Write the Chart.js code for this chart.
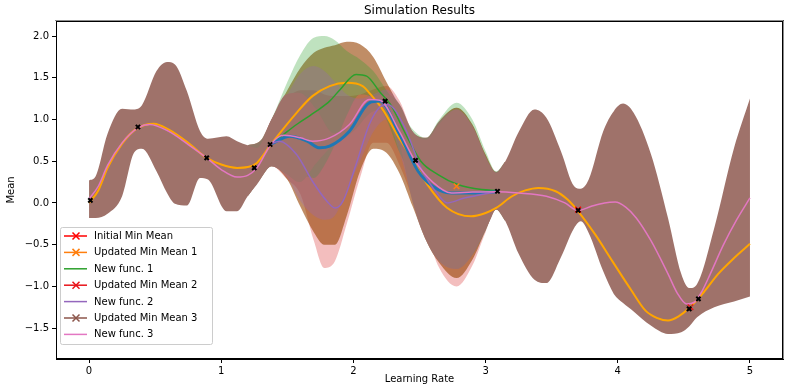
<!DOCTYPE html>
<html>
<head>
<meta charset="utf-8">
<script src="https://cdn.jsdelivr.net/npm/chart.js@4"></script>
<style>
html, body { margin: 0; padding: 0; background: #fff; overflow: hidden; }
canvas { display: block; }
</style>
</head>
<body>
<canvas id="simChart" width="809" height="391"></canvas>
<script>

// ==========================
// DATA
// ==========================

const xTicks = [0, 1, 2, 3, 4, 5];
const yTicks = [-1.5, -1.0, -0.5, 0.0, 0.5, 1.0, 1.5, 2.0];

// final confidence band (covers whole range)
const bandX = [0, 0.05, 0.14, 0.25, 0.34, 0.40, 0.51, 0.59, 0.65, 0.74, 0.84, 0.90, 1.04, 1.12, 1.2, 1.27, 1.38, 1.49, 1.59, 1.72, 1.85, 2.0, 2.15, 2.25, 2.35, 2.45, 2.55, 2.65, 2.78, 2.9, 3.03, 3.08, 3.15, 3.25, 3.37, 3.46, 3.57, 3.67, 3.72, 3.78, 3.89, 3.97, 4.04, 4.12, 4.25, 4.38, 4.48, 4.54, 4.6, 4.73, 4.88, 5.0];
const bandUpper = [0.27, 0.32, 0.83, 1.13, 1.12, 1.17, 1.58, 1.69, 1.66, 1.34, 0.86, 0.77, 0.80, 0.74, 0.69, 0.66, 1.0, 1.30, 1.32, 1.12, 0.84, 0.95, 1.27, 1.30, 1.18, 0.85, 0.76, 0.95, 1.12, 0.92, 0.46, 0.36, 0.50, 0.85, 1.12, 1.02, 0.62, 0.20, 0.17, 0.28, 0.86, 1.10, 1.19, 1.08, 0.59, -0.18, -0.85, -1.02, -0.97, -0.30, 0.66, 1.25];
const bandLower = [-0.18, -0.18, -0.13, 0.08, 0.60, 0.65, 0.38, 0.12, -0.01, -0.03, 0.30, 0.28, -0.10, -0.10, 0.08, 0.22, 0.44, 0.35, 0.25, 0.48, 0.70, 0.86, 1.10, 1.12, 0.70, 0.0, -0.45, -0.70, -0.79, -0.62, -0.22, -0.08, -0.22, -0.61, -0.92, -0.96, -0.65, -0.30, -0.22, -0.36, -0.82, -1.09, -1.20, -1.30, -1.47, -1.57, -1.55, -1.48, -1.37, -1.25, -1.18, -1.12];

// earlier bands, only differ in the middle
const midX = [1.2, 1.3, 1.38, 1.5, 1.6, 1.7, 1.78, 1.86, 1.95, 2.05, 2.15, 2.25, 2.35, 2.45, 2.55, 2.65, 2.78, 2.9, 3.0, 3.08, 3.15];
const redUpper = [0.69, 0.75, 1.0, 1.25, 1.35, 1.35, 1.30, 1.28, 1.28, 1.30, 1.36, 1.40, 1.22, 0.85, 0.78, 0.98, 1.14, 0.94, 0.58, 0.37, 0.50];
const redLower = [0.08, 0.30, 0.44, 0.28, 0.10, -0.45, -0.78, -0.70, -0.25, 0.30, 0.72, 0.72, 0.45, 0.05, -0.35, -0.78, -1.0, -0.75, -0.35, -0.08, -0.22];
const orangeUpper = [0.69, 0.75, 1.0, 1.35, 1.62, 1.80, 1.86, 1.89, 1.93, 1.90, 1.75, 1.45, 1.15, 0.85, 0.78, 0.98, 1.14, 0.94, 0.58, 0.37, 0.50];
const orangeLower = [0.08, 0.30, 0.44, 0.28, -0.05, -0.35, -0.50, -0.50, -0.15, 0.38, 0.65, 0.60, 0.35, -0.05, -0.45, -0.72, -0.90, -0.68, -0.33, -0.08, -0.22];
const greenUpper = [0.69, 0.75, 1.0, 1.45, 1.78, 1.98, 2.0, 1.95, 1.82, 1.72, 1.58, 1.35, 1.12, 0.88, 0.78, 1.0, 1.20, 1.0, 0.62, 0.38, 0.50];
const greenLower = [0.08, 0.30, 0.44, 0.42, 0.35, 0.30, 0.45, 0.70, 1.05, 1.30, 1.25, 1.0, 0.60, 0.30, -0.05, -0.45, -0.75, -0.62, -0.33, -0.08, -0.22];
const purpleUpper = [0.69, 0.75, 1.0, 1.30, 1.55, 1.64, 1.58, 1.45, 1.30, 1.25, 1.30, 1.36, 1.18, 0.85, 0.78, 0.98, 1.12, 0.92, 0.55, 0.37, 0.50];
const purpleLower = [0.08, 0.30, 0.44, 0.30, 0.02, -0.15, -0.20, -0.15, 0.15, 0.50, 0.85, 1.0, 0.60, 0.05, -0.40, -0.70, -0.79, -0.62, -0.33, -0.08, -0.22];

// mean curves
const orangeX = [0, 0.07, 0.14, 0.25, 0.36, 0.49, 0.6, 0.75, 0.89, 1.0, 1.12, 1.2, 1.27, 1.38, 1.57, 1.69, 1.82, 1.95, 2.07, 2.13, 2.23, 2.33, 2.44, 2.56, 2.71, 2.89, 3.0, 3.08, 3.2, 3.3, 3.40, 3.53, 3.62, 3.70, 3.83, 3.96, 4.1, 4.21, 4.3, 4.38, 4.46, 4.54, 4.65, 4.76, 4.88, 5.0];
const orangeY = [0.0, 0.15, 0.42, 0.71, 0.89, 0.95, 0.88, 0.72, 0.54, 0.46, 0.42, 0.43, 0.48, 0.71, 1.08, 1.28, 1.40, 1.44, 1.40, 1.30, 1.10, 0.82, 0.54, 0.22, -0.06, -0.16, -0.12, -0.06, 0.08, 0.15, 0.18, 0.14, 0.04, -0.10, -0.38, -0.70, -1.04, -1.29, -1.38, -1.41, -1.36, -1.26, -1.07, -0.85, -0.66, -0.49];

const pinkX = [0, 0.07, 0.14, 0.25, 0.37, 0.46, 0.6, 0.75, 0.89, 1.0, 1.12, 1.2, 1.27, 1.38, 1.47, 1.6, 1.69, 1.82, 1.97, 2.12, 2.2, 2.35, 2.46, 2.6, 2.74, 2.9, 3.08, 3.25, 3.46, 3.6, 3.70, 3.8, 3.9, 3.98, 4.06, 4.14, 4.25, 4.38, 4.45, 4.52, 4.58, 4.64, 4.70, 4.8, 4.9, 5.0];
const pinkY = [0.05, 0.2, 0.45, 0.72, 0.90, 0.94, 0.86, 0.70, 0.54, 0.40, 0.31, 0.33, 0.42, 0.71, 0.81, 0.78, 0.74, 0.78, 0.94, 1.24, 1.23, 0.85, 0.52, 0.25, 0.12, 0.13, 0.135, 0.12, 0.08, 0.0, -0.09, -0.04, 0.0, 0.01, -0.05, -0.18, -0.45, -0.85, -1.08, -1.21, -1.19, -1.05, -0.85, -0.50, -0.20, 0.06];

const greenX = [1.38, 1.47, 1.57, 1.72, 1.82, 1.90, 2.02, 2.10, 2.20, 2.28, 2.41, 2.51, 2.64, 2.79, 2.97, 3.08];
const greenY = [0.71, 0.82, 0.94, 1.10, 1.22, 1.36, 1.54, 1.52, 1.33, 1.18, 0.78, 0.50, 0.34, 0.22, 0.16, 0.15];

const blueX = [1.38, 1.52, 1.65, 1.745, 1.82, 1.97, 2.12, 2.20, 2.35, 2.49, 2.6, 2.74, 2.9, 3.08];
const blueY = [0.71, 0.80, 0.74, 0.66, 0.68, 0.86, 1.20, 1.22, 0.82, 0.38, 0.20, 0.12, 0.12, 0.135];

const purpleX = [1.38, 1.44, 1.57, 1.69, 1.80, 1.86, 1.92, 2.02, 2.12, 2.2, 2.26, 2.39, 2.51, 2.64, 2.71, 2.84, 2.97, 3.08];
const purpleY = [0.71, 0.74, 0.58, 0.26, 0.02, -0.06, 0.02, 0.46, 0.94, 1.15, 1.18, 0.90, 0.42, 0.10, 0.0, 0.06, 0.10, 0.135];

// sampled points
const sampleX = [0.01, 0.37, 0.89, 1.25, 1.37, 2.24, 2.47, 3.09, 3.70, 4.54, 4.61];
const sampleY = [0.03, 0.91, 0.54, 0.42, 0.70, 1.22, 0.51, 0.14, -0.09, -1.27, -1.15];

// minimum markers
const initMinX = [3.70];
const initMinY = [-0.08];
const min1X = [2.78];
const min1Y = [0.20];
const min2X = [4.55];
const min2Y = [-1.25];
const min3X = [4.54];
const min3Y = [-1.26];


// ==========================
// BUILD DATASETS
// ==========================

function pts(xs, ys){
    return xs.map((x, i) => ({ x: x, y: ys[i] }));
}

function band(xs, up, lo, color, order){
    return [
        { data: pts(xs, up), borderWidth: 0, borderColor: "transparent", pointRadius: 0, fill: false, order: order, cubicInterpolationMode: "monotone" },
        { data: pts(xs, lo), borderWidth: 0, borderColor: "transparent", pointRadius: 0, fill: "-1", backgroundColor: color, order: order, cubicInterpolationMode: "monotone" }
    ];
}

function curve(xs, ys, color, width, order, label){
    return {
        label: label,
        data: pts(xs, ys),
        borderColor: color,
        borderWidth: width,
        pointRadius: 0,
        fill: false,
        order: order,
        cubicInterpolationMode: "monotone"
    };
}

function marks(xs, ys, color, radius, width, order, label){
    return {
        label: label,
        data: pts(xs, ys),
        showLine: false,
        borderColor: color,
        pointStyle: "crossRot",
        pointRadius: radius,
        pointBorderColor: color,
        pointBorderWidth: width,
        fill: false,
        order: order,
        isMarker: true
    };
}

const datasets = [].concat(
    band(midX, redUpper, redLower, "rgba(214,39,40,0.3)", 100),
    band(midX, orangeUpper, orangeLower, "rgba(150,65,0,0.6)", 99),
    band(midX, greenUpper, greenLower, "rgba(44,160,44,0.3)", 98),
    band(midX, purpleUpper, purpleLower, "rgba(148,103,189,0.3)", 97),
    band(bandX, bandUpper, bandLower, "rgb(159,114,106)", 96),
    [
        curve(orangeX, orangeY, "#ffa500", 2, 50),
        curve(greenX, greenY, "#2ca02c", 1.5, 49, "New func. 1"),
        curve(blueX, blueY, "#1f77b4", 3, 48),
        curve(purpleX, purpleY, "#9467bd", 1.5, 47, "New func. 2"),
        curve(pinkX, pinkY, "#e377c2", 1.5, 46, "New func. 3"),
        marks(initMinX, initMinY, "#ff0000", 4, 1.5, 20, "Initial Min Mean"),
        marks(min1X, min1Y, "#ff7f0e", 4, 1.5, 19, "Updated Min Mean 1"),
        marks(min2X, min2Y, "#e8141a", 4, 1.5, 18, "Updated Min Mean 2"),
        marks(min3X, min3Y, "#8c564b", 4, 1.5, 17, "Updated Min Mean 3"),
        marks(sampleX, sampleY, "#000000", 3, 2, 10)
    ]
);

const legendOrder = ["Initial Min Mean", "Updated Min Mean 1", "New func. 1", "Updated Min Mean 2", "New func. 2", "Updated Min Mean 3", "New func. 3"];


// ==========================
// PLUGINS
// ==========================

const FONT = "'DejaVu Sans', sans-serif";

const decorPlugin = {
    id: "decor",
    beforeDraw(chart){
        const ctx = chart.ctx;
        ctx.save();
        ctx.fillStyle = "#fff";
        ctx.fillRect(0, 0, chart.width, chart.height);
        ctx.restore();
    },
    afterDraw(chart){
        const ctx = chart.ctx;
        const a = chart.chartArea;
        const l = Math.round(a.left), r = Math.round(a.right);
        const t = Math.round(a.top), b = Math.round(a.bottom);

        ctx.save();
        ctx.setTransform(1, 0, 0, 1, 0, 0);

        // frame: solid 1px line with a soft outer pixel
        ctx.fillStyle = "rgba(0,0,0,0.45)";
        ctx.fillRect(l - 1, t - 1, r - l + 2, 1);
        ctx.fillRect(r, t - 1, 1, b - t + 2);
        ctx.fillStyle = "#000";
        ctx.fillRect(l, t, r - l, 1);
        ctx.fillRect(r - 1, t, 1, b - t);
        ctx.fillRect(l, b - 1, r - l, 1);
        ctx.fillRect(l, t, 1, b - t);

        // title + axis labels
        ctx.textAlign = "center";
        ctx.textBaseline = "middle";
        ctx.font = "12px " + FONT;
        ctx.fillText("Simulation Results", (l + r) / 2, 11);
        ctx.font = "10px " + FONT;
        ctx.fillText("Learning Rate", (l + r) / 2, 379);
        ctx.translate(11, (t + b) / 2);
        ctx.rotate(-Math.PI / 2);
        ctx.fillText("Mean", 0, 0);
        ctx.setTransform(1, 0, 0, 1, 0, 0);

        // legend
        const bx = 60, by = 227, bw = 152, bh = 117, row = 16.4;
        ctx.fillStyle = "rgba(255,255,255,0.8)";
        ctx.strokeStyle = "#cccccc";
        ctx.lineWidth = 1;
        ctx.beginPath();
        ctx.roundRect(bx + 0.5, by + 0.5, bw, bh, 2);
        ctx.fill();
        ctx.stroke();

        ctx.font = "10px " + FONT;
        ctx.textAlign = "left";
        ctx.textBaseline = "middle";

        legendOrder.forEach((name, i) => {
            const ds = chart.data.datasets.find(d => d.label === name);
            const y = by + 9 + i * row;
            const color = ds.isMarker ? ds.pointBorderColor : ds.borderColor;

            ctx.strokeStyle = color;
            ctx.lineWidth = 1.5;
            ctx.beginPath();
            ctx.moveTo(64, y);
            ctx.lineTo(87, y);
            ctx.stroke();

            if(ds.isMarker){
                ctx.beginPath();
                ctx.moveTo(72.5, y - 3.5);
                ctx.lineTo(79.5, y + 3.5);
                ctx.moveTo(72.5, y + 3.5);
                ctx.lineTo(79.5, y - 3.5);
                ctx.stroke();
            }

            ctx.fillStyle = "#000";
            ctx.fillText(name, 94, y + 0.5);
        });

        ctx.restore();
    }
};


// ==========================
// CHART
// ==========================

function fmt(v){
    return v.toFixed(1).replace("-", "\u2212");
}

new Chart(document.getElementById("simChart"), {

    type: "line",

    data: { datasets: datasets },

    options: {
        responsive: false,
        animation: false,
        devicePixelRatio: 1,
        layout: { padding: { top: 21, right: 26, left: 0, bottom: 0 } },
        plugins: {
            legend: { display: false },
            tooltip: { enabled: false },
            title: { display: false }
        },
        scales: {
            x: {
                type: "linear",
                min: -0.25,
                max: 5.25,
                afterBuildTicks: s => { s.ticks = xTicks.map(v => ({ value: v })); },
                afterFit: s => { s.height = 32; },
                ticks: {
                    color: "#000",
                    font: { family: FONT, size: 10 },
                    padding: 2,
                    maxRotation: 0,
                    callback: v => String(v)
                },
                grid: { drawOnChartArea: false, drawTicks: true, tickLength: 4, tickColor: "#000" },
                border: { color: "#000" }
            },
            y: {
                type: "linear",
                min: -1.87,
                max: 2.18,
                afterBuildTicks: s => { s.ticks = yTicks.map(v => ({ value: v })); },
                afterFit: s => { s.width = 56; },
                ticks: {
                    color: "#000",
                    font: { family: FONT, size: 10 },
                    padding: 3,
                    callback: v => fmt(v)
                },
                grid: { drawOnChartArea: false, drawTicks: true, tickLength: 4, tickColor: "#000" },
                border: { color: "#000" }
            }
        }
    },

    plugins: [decorPlugin]

});

</script>
</body>
</html>
